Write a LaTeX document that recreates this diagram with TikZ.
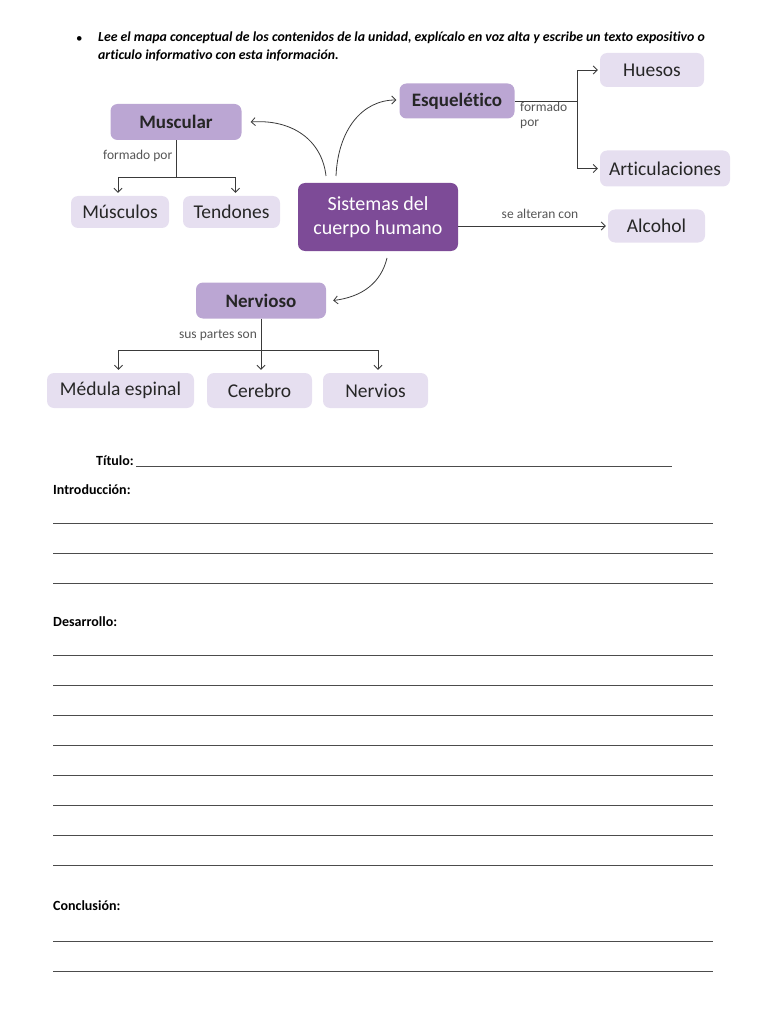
\documentclass[tikz,border=0pt]{standalone}
\usepackage{fontspec}
\setmainfont{Carlito}[Ligatures=NoCommon]
\usetikzlibrary{arrows.meta,calc}
\definecolor{dpurple}{HTML}{7D4B97}
\definecolor{mpurple}{HTML}{BBA6D3}
\definecolor{lpurple}{HTML}{E6DFF0}
\definecolor{lnk}{HTML}{3A3A3A}
\definecolor{lbl}{HTML}{555555}
\begin{document}
\begin{tikzpicture}[x=1pt,y=-1pt,
  basebox/.style={rounded corners=7pt, inner sep=0pt, align=center},
  mainbox/.style={basebox, fill=dpurple, text=white, font=\fontsize{20}{24}\selectfont},
  midbox/.style={basebox, fill=mpurple, text=black!85, font=\bfseries\fontsize{19}{22}\selectfont},
  leafbox/.style={basebox, fill=lpurple, text=black!85, font=\fontsize{19.5}{22}\selectfont},
  conn/.style={draw=lnk, line width=0.8pt},
  arr/.style={conn, -{Straight Barb[length=4pt,width=8pt]}},
  lab/.style={text=lbl, font=\fontsize{13.5}{15}\selectfont, inner sep=0pt, align=left},
  formlab/.style={font=\bfseries\fontsize{14}{16}\selectfont, inner sep=0pt, anchor=west},
  wline/.style={draw=black!70, line width=0.9pt}
]
\useasboundingbox (0,0) rectangle (768,1024);

% instruction
\node[inner sep=0pt, anchor=west] (bul) at (76,40) {\fontsize{13}{15}\selectfont\textbullet};
\node[inner sep=0pt, anchor=north west, align=left,
      font=\bfseries\itshape\fontsize{13.8}{18}\selectfont] (instr) at (98,32)
 {Lee el mapa conceptual de los contenidos de la unidad, explícalo en voz alta y escribe un texto expositivo o\\articulo informativo con esta información.};

% boxes
\node[mainbox, minimum width=160pt, minimum height=68pt] (sis) at (378,217) {Sistemas del\\cuerpo humano};
\node[midbox, minimum width=131pt, minimum height=36pt] (mus) at (176,122) {Muscular};
\node[leafbox, minimum width=98pt, minimum height=32pt] (mcl) at (120,212) {Músculos};
\node[leafbox, minimum width=97pt, minimum height=32pt] (ten) at (231.5,212) {Tendones};
\node[midbox, minimum width=115pt, minimum height=35pt] (esq) at (457,101) {Esquelético};
\node[leafbox, minimum width=104pt, minimum height=34pt] (hue) at (652,70) {Huesos};
\node[leafbox, minimum width=130pt, minimum height=36pt] (art) at (665,168.5) {Articulaciones};
\node[leafbox, minimum width=97pt, minimum height=33pt] (alc) at (656.5,226) {Alcohol};
\node[midbox, minimum width=130pt, minimum height=36pt] (ner) at (261,300.5) {Nervioso};
\node[leafbox, minimum width=147pt, minimum height=35pt] (med) at (120.5,390.5) {Médula espinal};
\node[leafbox, minimum width=105pt, minimum height=35pt] (cer) at (259.5,390.5) {Cerebro};
\node[leafbox, minimum width=105pt, minimum height=35pt] (nvs) at (375.5,390.5) {Nervios};

% curved connectors from Sistemas
\coordinate (s1) at (326,176);
\coordinate (s2) at (336,176);
\coordinate (s3) at (387,258);
\draw[arr] (s1) .. controls (322,140) and (292,119) .. ($(mus.east)+(9,0)$);
\draw[arr] (s2) .. controls (338,130) and (362,100) .. ($(esq.west)+(-3,-1)$);
\draw[arr] (s3) .. controls (381,283) and (362,297) .. ($(ner.east)+(7,0)$);

% Muscular branch
\coordinate (mj) at (176,177);
\draw[conn] (mus.south) -- (mj);
\draw[arr, shorten >=3pt] (mj) -| ($(mcl.north)+(-2,0)$);
\draw[arr, shorten >=3pt] (mj) -| ($(ten.north)+(4,0)$);
\node[lab, anchor=west] (l1) at (103,156) {formado por};

% Esqueletico branch
\coordinate (ej) at (577,101);
\draw[conn] (esq.east) -- (ej);
\draw[arr, shorten >=2pt] (ej) |- (hue.west);
\draw[arr, shorten >=2pt] (ej) |- (art.west);
\node[lab, anchor=north west] (l2) at (520,102) {formado\\por};

% Alcohol
\draw[arr, shorten >=2pt] (sis.east |- alc.west) -- (alc.west);
\node[lab, anchor=center] (l3) at (540,214) {se alteran con};

% Nervioso branch
\coordinate (nj) at (261,350);
\draw[conn] (ner.south) -- (nj);
\draw[arr, shorten >=3pt] (nj) -| ($(med.north)+(-2,0)$);
\draw[arr, shorten >=3pt] (nj) -- (cer.north -| nj);
\draw[arr, shorten >=3pt] (nj) -| ($(nvs.north)+(2.5,0)$);
\node[lab, anchor=center] (l4) at (218,335) {sus partes son};

% form
\node[formlab] (tit) at (96,461) {Título:};
\coordinate (t0) at (136,466);
\coordinate (t1) at (672,466);
\draw[wline] (t0) -- (t1);
\node[formlab] (intro) at (53,490) {Introducción:};
\foreach \yy in {523,553,583} {\draw[wline] (53,\yy) -- (713,\yy);}
\node[formlab] (des) at (53,622) {Desarrollo:};
\foreach \yy in {655,685,715,745,775,805,835,865} {\draw[wline] (53,\yy) -- (713,\yy);}
\node[formlab] (con) at (53,906) {Conclusión:};
\foreach \yy in {941,971} {\draw[wline] (53,\yy) -- (713,\yy);}
\end{tikzpicture}
\end{document}
